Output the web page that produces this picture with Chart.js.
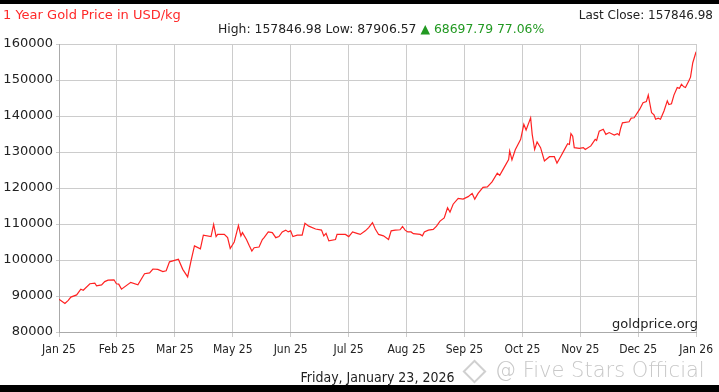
<!DOCTYPE html>
<html>
<head>
<meta charset="utf-8">
<script src="https://cdn.jsdelivr.net/npm/chart.js@4.4.1/dist/chart.umd.min.js"></script>
<style>
  html, body { margin: 0; padding: 0; background: #000; }
  #wrap { position: relative; width: 719px; height: 392px; overflow: hidden; background: #000; }
  #paper { position: absolute; left: 0; top: 4px; width: 719px; height: 381px; background: #fff; }
  #chart { position: absolute; left: 0; top: 0; }
  .txt { position: absolute; white-space: nowrap; font-family: "DejaVu Sans", sans-serif; font-size: 12px; color: #222; line-height: 1; }
  #title { left: 3px; top: 8px; color: #ff2a2a; font-size: 13px; }
  #last { right: 6px; top: 9px; }
  #stats { left: 218px; top: 23px; font-size: 12.4px; }
  #stats .up { color: #229922; }
  #src { right: 21px; top: 317px; font-size: 13px; }
  #date { left: 0; width: 755px; text-align: center; top: 370px; font-family: "DejaVu Sans Condensed", "DejaVu Sans", sans-serif; font-size: 14px; font-stretch: condensed; }
  #mark { left: 495px; top: 360px; font-size: 21px; font-weight: 200; color: #c8c8c8; }
  #logo { position: absolute; left: 466px; top: 363px; width: 13px; height: 13px; border: 2px solid #d0d0d0; transform: rotate(45deg); }
</style>
</head>
<body>
<div id="wrap">
  <div id="paper"></div>
  <canvas id="chart" width="719" height="392"></canvas>
</div>
<script>
//DATA
var xLabels = ["Jan 25", "Feb 25", "Mar 25", "May 25", "Jun 25", "Jul 25", "Aug 25", "Sep 25", "Oct 25", "Nov 25", "Dec 25", "Jan 26"];
var yTicks = [80000, 90000, 100000, 110000, 120000, 130000, 140000, 150000, 160000];
//days since Jan 23, 2025
var days = [0, 3.4, 5.3, 6.8, 10.1, 12.5, 13.9, 17.7, 20.5, 21.5, 24.4, 26.2, 28.1, 31.5, 32.9, 34.2, 35.8, 41.1, 45.2, 49.0,
    51.9, 53.8, 56.6, 59.5, 61.4, 63.3, 66.2, 68.4, 70.9, 73.7, 75.7, 77.6, 81.0, 82.7, 87.1, 88.6, 90.0, 90.9, 94.7, 96.6,
    98.1, 100.4, 102.8, 104.2, 105.1, 107.4, 108.9, 110.5, 111.8, 114.6, 116.5, 117.5, 119.9, 122.2, 124.2, 126.0, 127.9, 129.9, 131.3, 132.7,
    134.0, 136.5, 139.3, 140.9, 143.1, 147.0, 150.4, 151.7, 153.0, 154.6, 158.4, 159.3, 164.1, 166.0, 168.2, 170.7, 172.6, 175.5, 177.4, 179.6,
    181.2, 183.1, 185.9, 188.8, 190.3, 192.6, 195.4, 196.8, 198.3, 199.8, 201.7, 203.0, 206.9, 208.2, 209.3, 211.6, 214.4, 216.3, 218.3, 220.7,
    222.6, 224.0, 225.8, 228.7, 231.5, 234.4, 236.7, 238.2, 240.1, 242.9, 245.4, 248.1, 251.1, 252.5, 254.9, 257.6, 258.2, 259.5, 261.4, 264.5,
    266.3, 267.6, 270.2, 271.1, 272.5, 273.9, 275.9, 278.1, 281.0, 283.8, 285.3, 287.6, 289.5, 291.4, 292.4, 293.3, 294.3, 295.2, 298.1, 300.4,
    301.5, 304.7, 307.2, 308.0, 309.5, 311.8, 313.3, 315.2, 318.1, 319.9, 320.9, 321.8, 322.8, 326.6, 327.8, 329.5, 332.7, 334.6, 336.5, 337.6,
    338.4, 339.5, 340.9, 341.8, 343.3, 344.6, 346.6, 348.5, 349.4, 350.9, 352.3, 354.2, 355.5, 356.6, 358.0, 358.9, 360.8, 361.8, 363.1, 365];
var prices = [89100, 87906.57, 88800, 89700, 90300, 91900, 91600, 93400, 93600, 92800, 93100, 94000, 94400, 94500, 93400, 93300, 91900, 93800, 93100, 96200,
    96400, 97500, 97400, 96800, 97000, 99500, 99900, 100200, 97400, 95300, 99900, 103900, 103100, 106900, 106500, 109900, 106500, 107100, 107100, 106200,
    103200, 105000, 109600, 106700, 107600, 105700, 104100, 102500, 103400, 103600, 105700, 106200, 107800, 107600, 106200, 106500, 107800, 108300, 107800, 108100,
    106500, 106900, 106900, 110200, 109400, 108600, 108300, 106700, 107400, 105300, 105700, 107100, 107100, 106500, 107800, 107400, 107100, 108100, 109000, 110400,
    108600, 107100, 106700, 105700, 108100, 108300, 108400, 109300, 108300, 107800, 107800, 107300, 107100, 106700, 107800, 108300, 108500, 109400, 110800, 111700,
    114500, 113300, 115500, 117100, 116900, 117600, 118500, 116900, 118500, 120200, 120300, 121700, 124100, 123500, 125600, 127900, 130300, 127800, 130600, 133500,
    137700, 136100, 139500, 134900, 130700, 132800, 131200, 127500, 128700, 128700, 126900, 128900, 130600, 132300, 132100, 135100, 134400, 131200, 131000, 131200,
    130700, 131700, 133500, 133200, 135800, 136300, 134900, 135400, 134700, 135100, 134700, 136600, 138100, 138400, 139400, 139500, 141900, 143700, 144000, 145800,
    143700, 140900, 140300, 139100, 139400, 139100, 141400, 144200, 143200, 143400, 145800, 147900, 147700, 148800, 148100, 147900, 149700, 150800, 154800, 157846.98];

var yearDays = 365;
var points = [];
for (var i = 0; i < days.length; i++)
    points.push({ x: days[i], y: prices[i] });

var ctx = document.getElementById("chart").getContext("2d");
var goldChart = new Chart(ctx, {
    type: "line",
    data: {
        datasets: [{
            data: points,
            borderColor: "#ff2222",
            borderWidth: 1.2,
            pointRadius: 0,
            tension: 0,
            fill: false
        }]
    },
    options: {
        responsive: false,
        animation: false,
        events: [],
        layout: { padding: { left: 0, right: 21, top: 44, bottom: 33 } },
        plugins: { legend: { display: false }, tooltip: { enabled: false } },
        scales: {
            x: {
                type: "linear",
                min: 0,
                max: yearDays,
                afterBuildTicks: function(scale) {
                    scale.ticks = xLabels.map(function(l, i) { return { value: i * yearDays / (xLabels.length - 1) }; });
                },
                afterFit: function(scale) { scale.height = 27; },
                ticks: {
                    autoSkip: false,
                    maxRotation: 0,
                    padding: 6,
                    color: "#222",
                    font: { family: "'DejaVu Sans Condensed', 'DejaVu Sans'", size: 12 },
                    callback: function(v, i) { return xLabels[i]; }
                },
                grid: { color: "#cccccc", lineWidth: 1, tickLength: 5 },
                border: { color: "#aaaaaa" }
            },
            y: {
                min: yTicks[0],
                max: yTicks[yTicks.length - 1],
                afterBuildTicks: function(scale) {
                    scale.ticks = yTicks.map(function(v) { return { value: v }; });
                },
                afterFit: function(scale) { scale.width = 59; },
                ticks: {
                    padding: 3,
                    color: "#222",
                    font: { family: "'DejaVu Sans'", size: 13 },
                    callback: function(v) { return String(v); }
                },
                grid: { color: "#cccccc", lineWidth: 1, tickLength: 3 },
                border: { color: "#aaaaaa" }
            }
        }
    }
});
</script>
<div class="txt" id="title">1 Year Gold Price in USD/kg</div>
<div class="txt" id="last">Last Close: 157846.98</div>
<div class="txt" id="stats">High: 157846.98 Low: 87906.57 <span class="up">&#9650; 68697.79 77.06%</span></div>
<div class="txt" id="src">goldprice.org</div>
<div class="txt" id="date">Friday, January 23, 2026</div>
<div id="logo"></div>
<div class="txt" id="mark">@ Five Stars Official</div>
</body>
</html>
